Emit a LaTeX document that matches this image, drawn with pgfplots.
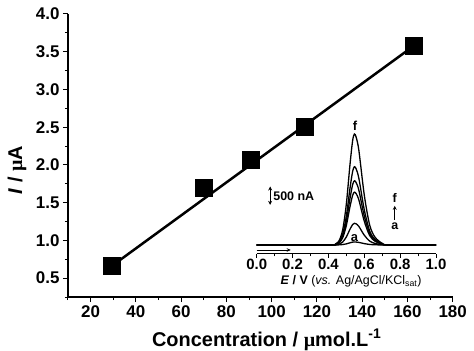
\documentclass[border=0pt]{standalone}
\usepackage{fontspec}
\setmainfont{Liberation Sans}
\newfontfamily\seriffont{Liberation Serif}
\usepackage{pgfplots}
\pgfplotsset{compat=1.18}
\usetikzlibrary{arrows.meta}
\tikzset{cv/.style={black, line width=1.3bp, smooth, tension=0.5, mark=none}}
\begin{document}
\begin{tikzpicture}
\begin{axis}[
  name=main, at={(0,0)}, anchor=south west,
  scale only axis, width=384.7bp, height=283bp,
  xmin=10, xmax=180, ymin=0.25, ymax=4.0,
  axis x line*=bottom, axis y line*=left,
  axis line style={-, line width=1.2bp},
  xtick={20,40,...,180}, minor xtick={10,30,...,170},
  ytick={0.5,1.0,...,4.0}, minor ytick={0.25,0.75,...,3.75},
  tick align=outside, major tick length=5bp, minor tick length=3bp,
  tick style={line width=1bp, black},
  /pgf/number format/assume math mode=true,
  ticklabel style={font=\bfseries\fontsize{17}{17}\selectfont},
  yticklabel style={/pgf/number format/fixed, /pgf/number format/fixed zerofill, /pgf/number format/precision=1},
  xlabel={Concentration / {\seriffont µ}mol.L\textsuperscript{-1}},
  ylabel={\textit{I} / {\seriffont µ}A},
  label style={font=\bfseries\fontsize{20}{20}\selectfont},
  xlabel style={at={(axis description cs:0.5165,0)}, yshift=-43bp, anchor=center},
  ylabel style={at={(axis description cs:-0.1326,0.449)}, anchor=center, rotate=0},
]
\addplot[black, line width=2.5bp] coordinates {(29.3,0.66) (162.9,3.58)};
\addplot[only marks, mark=square*, mark size=8.5bp, black] coordinates {
(29.3,0.66) (69.8,1.70) (90.9,2.065) (114.7,2.507) (162.9,3.58)};
\end{axis}
\begin{axis}[
  at={(188.7bp,43bp)}, anchor=south west,
  scale only axis, width=179.3bp, height=126bp,
  xmin=0, xmax=1, ymin=-0.27, ymax=3.5,
  axis x line*=bottom, axis y line=none, clip=false,
  axis line style={-, line width=1bp},
  xtick={0,0.2,0.4,0.6,0.8,1.0}, minor xtick={0.1,0.3,0.5,0.7,0.9},
  tick align=outside, major tick length=4bp, minor tick length=2.5bp,
  tick style={line width=0.8bp, black},
  /pgf/number format/assume math mode=true,
  xticklabel style={font=\bfseries\fontsize{15}{15}\selectfont, inner sep=1bp, /pgf/number format/fixed, /pgf/number format/fixed zerofill, /pgf/number format/precision=1},
  xlabel={\textbf{\textit{E}} \textbf{/ V} (\textit{vs.} Ag/AgCl/KCl\textsubscript{sat})},
  xlabel style={font=\fontsize{12.5}{12.5}\selectfont, at={(axis description cs:0.526,0)}, yshift=-27bp, anchor=center},
]
\addplot[cv] coordinates {(0,0) (0.40,0) (0.44,0.033) (0.46,0.133) (0.48,0.465) (0.50,1.228) (0.52,2.39) (0.535,3.121) (0.545,3.32) (0.555,3.22) (0.57,2.822) (0.60,1.494) (0.63,0.598) (0.66,0.232) (0.70,0.050) (0.74,0) (1.0,0)};
\addplot[cv] coordinates {(0,0) (0.40,0) (0.44,0.023) (0.46,0.094) (0.48,0.328) (0.50,0.866) (0.52,1.685) (0.535,2.2) (0.545,2.34) (0.555,2.27) (0.57,1.989) (0.60,1.053) (0.63,0.421) (0.66,0.164) (0.70,0.035) (0.74,0) (1.0,0)};
\addplot[cv] coordinates {(0,0) (0.40,0) (0.44,0.019) (0.46,0.077) (0.48,0.269) (0.50,0.710) (0.52,1.382) (0.535,1.805) (0.545,1.92) (0.555,1.862) (0.57,1.632) (0.60,0.864) (0.63,0.346) (0.66,0.134) (0.70,0.029) (0.74,0) (1.0,0)};
\addplot[cv] coordinates {(0,0) (0.40,0) (0.44,0.016) (0.46,0.063) (0.48,0.221) (0.50,0.585) (0.52,1.138) (0.535,1.485) (0.545,1.58) (0.555,1.533) (0.57,1.343) (0.60,0.711) (0.63,0.284) (0.66,0.111) (0.70,0.024) (0.74,0) (1.0,0)};
\addplot[cv] coordinates {(0,0) (0.40,0) (0.44,0.0065) (0.46,0.026) (0.48,0.091) (0.50,0.241) (0.52,0.468) (0.535,0.611) (0.545,0.65) (0.555,0.631) (0.57,0.553) (0.60,0.293) (0.63,0.117) (0.66,0.046) (0.70,0.010) (0.74,0) (1.0,0)};
\addplot[cv] coordinates {(0,0) (0.40,0) (0.44,0.001) (0.46,0.004) (0.48,0.013) (0.50,0.033) (0.52,0.065) (0.535,0.085) (0.545,0.09) (0.555,0.087) (0.57,0.077) (0.60,0.041) (0.63,0.016) (0.66,0.006) (0.70,0.001) (0.74,0) (1.0,0)};
\draw[line width=0.8bp, -{Stealth[length=4bp,width=3.5bp]}] (axis cs:0,-0.15) -- (axis cs:0.19,-0.15);
\draw[line width=0.9bp, {Stealth[length=4bp,width=4bp]}-{Stealth[length=4bp,width=4bp]}] (axis cs:0.075,1.2) -- (axis cs:0.075,1.75);
\node[anchor=west, font=\bfseries\fontsize{12.5}{12.5}\selectfont, inner sep=0pt] at (axis cs:0.092,1.45) {500 nA};
\node[font=\bfseries\fontsize{13}{13}\selectfont, inner sep=0pt] at (axis cs:0.548,3.56) {f};
\node[font=\bfseries\fontsize{13}{13}\selectfont, inner sep=0pt] at (axis cs:0.545,0.22) {a};
\node[font=\bfseries\fontsize{12.5}{12.5}\selectfont, inner sep=0pt] at (axis cs:0.77,1.41) {f};
\node[font=\bfseries\fontsize{12.5}{12.5}\selectfont, inner sep=0pt] at (axis cs:0.77,0.57) {a};
\draw[line width=0.9bp, -{Stealth[length=4bp,width=4bp]}] (axis cs:0.77,0.76) -- (axis cs:0.77,1.17);
\end{axis}
\pgfresetboundingbox
\path[use as bounding box] (-68bp,-54bp) rectangle (406bp,297bp);
\end{tikzpicture}
\end{document}
